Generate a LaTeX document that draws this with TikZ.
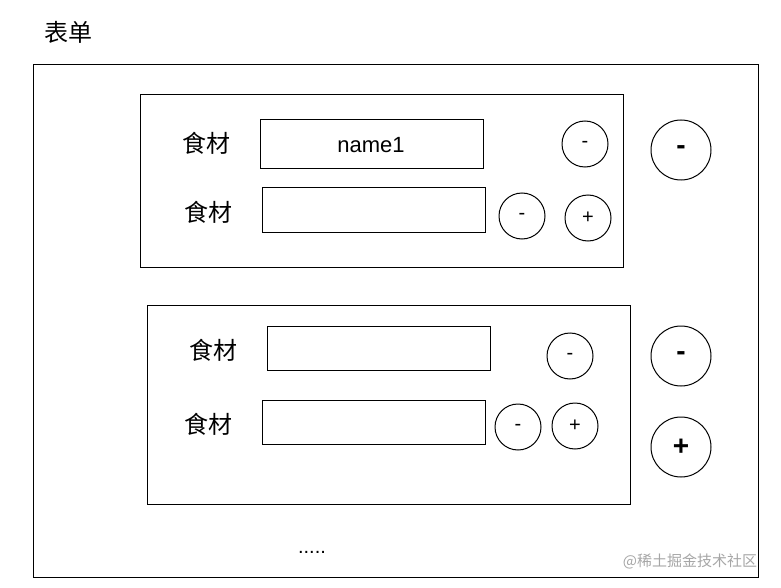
\documentclass[tikz,border=0pt]{standalone}
\usepackage{fontspec}
\setmainfont{Liberation Sans}
\newfontfamily\cjk{Noto Sans CJK SC}
\begin{document}
\begin{tikzpicture}[x=1pt,y=-1pt,
  box/.style={draw,line width=1pt},
  lbl/.style={font=\cjk\fontsize{24}{28}\selectfont,inner sep=0},
  btn/.style={draw,circle,line width=1pt,minimum size=46pt,inner sep=0,font=\fontsize{20}{24}\selectfont},
  bigbtn/.style={draw,circle,line width=1pt,minimum size=60pt,inner sep=0,font=\bfseries\fontsize{28}{32}\selectfont}]
\useasboundingbox (0,0) rectangle (781,588);
\node[lbl] (title) at (68,32) {表单};
\draw[box] (33,65) rectangle (758,577);
\draw[box] (140,95) rectangle (623,267);
\node[lbl] (l1) at (206,143) {食材};
\draw[box] (260,120) rectangle (483,169);
\node[font=\fontsize{22}{26}\selectfont] (n1) at (371,145) {name1};
\node[btn] (b1) at (585,144) {-};
\node[lbl] (l2) at (208,212) {食材};
\draw[box] (262,188) rectangle (485,232);
\node[btn] (b2) at (522,216) {-};
\node[btn] (b3) at (588,218) {+};
\node[bigbtn] (g1) at (681,150) {-};
\draw[box] (147,305) rectangle (630,504);
\node[lbl] (l3) at (213,350) {食材};
\draw[box] (267,326) rectangle (490,370);
\node[btn] (b4) at (570,356) {-};
\node[lbl] (l4) at (208,424) {食材};
\draw[box] (262,400) rectangle (485,444);
\node[btn] (b5) at (518,427) {-};
\node[btn] (b6) at (575,426) {+};
\node[bigbtn] (g2) at (681,356) {-};
\node[bigbtn] (g3) at (681,447) {+};
\node[font=\fontsize{20}{24}\selectfont] (dots) at (312,552) {.....};
\node[font=\cjk\fontsize{15}{18}\selectfont,text=gray!70] (wm) at (690,561) {@稀土掘金技术社区};
\end{tikzpicture}
\end{document}
